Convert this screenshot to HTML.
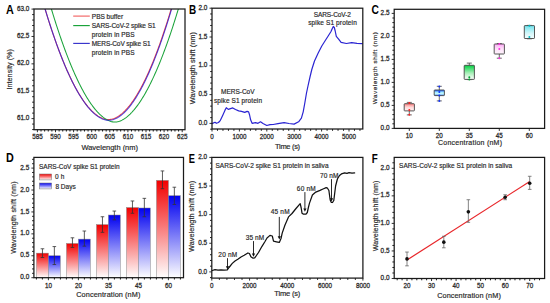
<!DOCTYPE html><html><head><meta charset="utf-8"><style>html,body{margin:0;padding:0;background:#fff;}svg{display:block;}</style></head><body>
<svg width="550" height="303" viewBox="0 0 550 303" font-family='"Liberation Sans", sans-serif'>
<rect width="550" height="303" fill="#fff"/>
<defs>
<linearGradient id="gR" x1="0" y1="0" x2="0" y2="1"><stop offset="0" stop-color="#f20000"/><stop offset="1" stop-color="#ffffff"/></linearGradient>
<linearGradient id="gB" x1="0" y1="0" x2="0" y2="1"><stop offset="0" stop-color="#0000f0"/><stop offset="1" stop-color="#ffffff"/></linearGradient>
<linearGradient id="cR" x1="0" y1="0" x2="0" y2="1"><stop offset="0" stop-color="#ff8080"/><stop offset="0.5" stop-color="#ffdada"/><stop offset="1" stop-color="#fff4f4"/></linearGradient>
<linearGradient id="cB" x1="0" y1="0" x2="0" y2="1"><stop offset="0" stop-color="#1a50f0"/><stop offset="0.45" stop-color="#a8f0ff"/><stop offset="0.7" stop-color="#c8f8ff"/><stop offset="1" stop-color="#2a70f0"/></linearGradient>
<linearGradient id="cG" x1="0" y1="0" x2="0" y2="1"><stop offset="0" stop-color="#00d040"/><stop offset="0.55" stop-color="#a8f0b8"/><stop offset="1" stop-color="#ffffff"/></linearGradient>
<linearGradient id="cM" x1="0" y1="0" x2="0" y2="1"><stop offset="0" stop-color="#ffa8f6"/><stop offset="0.5" stop-color="#fde2f9"/><stop offset="1" stop-color="#fff4fd"/></linearGradient>
<linearGradient id="cC" x1="0" y1="0" x2="0" y2="1"><stop offset="0" stop-color="#70e4ee"/><stop offset="0.6" stop-color="#d4f6f9"/><stop offset="1" stop-color="#f4feff"/></linearGradient>
</defs>
<clipPath id="clipA"><rect x="34" y="9" width="151" height="120.4"/></clipPath>
<g clip-path="url(#clipA)">
<polyline points="40.00,-8.42 40.58,-6.35 41.17,-4.30 41.75,-2.26 42.33,-0.25 42.92,1.76 43.50,3.74 44.08,5.71 44.67,7.67 45.25,9.61 45.83,11.53 46.42,13.44 47.00,15.33 47.58,17.20 48.17,19.06 48.75,20.90 49.33,22.73 49.92,24.54 50.50,26.33 51.08,28.11 51.67,29.87 52.25,31.61 52.83,33.34 53.42,35.05 54.00,36.75 54.58,38.43 55.17,40.09 55.75,41.74 56.33,43.37 56.92,44.99 57.50,46.58 58.08,48.17 58.67,49.73 59.25,51.28 59.83,52.81 60.42,54.33 61.00,55.83 61.58,57.31 62.17,58.78 62.75,60.23 63.33,61.66 63.92,63.08 64.50,64.48 65.08,65.86 65.67,67.23 66.25,68.58 66.83,69.91 67.42,71.23 68.00,72.53 68.58,73.81 69.17,75.08 69.75,76.32 70.33,77.56 70.92,78.77 71.50,79.97 72.08,81.15 72.67,82.32 73.25,83.47 73.83,84.60 74.42,85.71 75.00,86.81 75.58,87.89 76.17,88.95 76.75,89.99 77.33,91.02 77.92,92.03 78.50,93.03 79.08,94.00 79.67,94.96 80.25,95.90 80.83,96.83 81.42,97.74 82.00,98.62 82.58,99.50 83.17,100.35 83.75,101.19 84.33,102.01 84.92,102.81 85.50,103.59 86.08,104.36 86.67,105.11 87.25,105.84 87.83,106.55 88.42,107.24 89.00,107.92 89.58,108.58 90.17,109.22 90.75,109.84 91.33,110.44 91.92,111.03 92.50,111.60 93.08,112.14 93.67,112.67 94.25,113.19 94.83,113.68 95.42,114.15 96.00,114.61 96.58,115.05 97.17,115.46 97.75,115.86 98.33,116.24 98.92,116.60 99.50,116.94 100.08,117.26 100.67,117.57 101.25,117.85 101.83,118.11 102.42,118.35 103.00,118.57 103.58,118.77 104.17,118.95 104.75,119.11 105.33,119.25 105.92,119.36 106.50,119.46 107.08,119.53 107.67,119.58 108.25,119.60 108.83,119.59 109.42,119.56 110.00,119.50 110.58,119.41 111.17,119.31 111.75,119.18 112.33,119.03 112.92,118.86 113.50,118.66 114.08,118.45 114.67,118.21 115.25,117.96 115.83,117.68 116.42,117.38 117.00,117.07 117.58,116.73 118.17,116.38 118.75,116.00 119.33,115.61 119.92,115.19 120.50,114.76 121.08,114.30 121.67,113.83 122.25,113.34 122.83,112.83 123.42,112.30 124.00,111.75 124.58,111.18 125.17,110.60 125.75,109.99 126.33,109.37 126.92,108.73 127.50,108.07 128.08,107.39 128.67,106.69 129.25,105.98 129.83,105.25 130.42,104.50 131.00,103.73 131.58,102.94 132.17,102.13 132.75,101.31 133.33,100.47 133.92,99.61 134.50,98.73 135.08,97.84 135.67,96.92 136.25,95.99 136.83,95.04 137.42,94.08 138.00,93.09 138.58,92.09 139.17,91.07 139.75,90.04 140.33,88.98 140.92,87.91 141.50,86.82 142.08,85.72 142.67,84.59 143.25,83.45 143.83,82.30 144.42,81.12 145.00,79.93 145.58,78.72 146.17,77.49 146.75,76.25 147.33,74.98 147.92,73.71 148.50,72.41 149.08,71.10 149.67,69.77 150.25,68.42 150.83,67.06 151.42,65.68 152.00,64.28 152.58,62.86 153.17,61.43 153.75,59.98 154.33,58.52 154.92,57.03 155.50,55.54 156.08,54.02 156.67,52.49 157.25,50.94 157.83,49.37 158.42,47.79 159.00,46.19 159.58,44.57 160.17,42.94 160.75,41.29 161.33,39.62 161.92,37.94 162.50,36.24 163.08,34.52 163.67,32.79 164.25,31.04 164.83,29.28 165.42,27.50 166.00,25.70 166.58,23.88 167.17,22.05 167.75,20.20 168.33,18.34 168.92,16.46 169.50,14.56 170.08,12.65 170.67,10.72 171.25,8.77 171.83,6.81 172.42,4.83 173.00,2.83 173.58,0.82 174.17,-1.21 174.75,-3.25 175.33,-5.31 175.92,-7.39 176.50,-9.48 177.08,-11.59 177.67,-13.71 178.25,-15.85 178.83,-18.01 179.42,-20.19 180.00,-22.38" fill="none" stroke="#f04848" stroke-width="1.1" stroke-linejoin="round" stroke-linecap="round"/>
<polyline points="45.00,-13.15 45.58,-11.06 46.17,-8.98 46.75,-6.91 47.33,-4.86 47.92,-2.83 48.50,-0.81 49.08,1.19 49.67,3.18 50.25,5.16 50.83,7.11 51.42,9.06 52.00,10.98 52.58,12.90 53.17,14.79 53.75,16.68 54.33,18.54 54.92,20.39 55.50,22.23 56.08,24.05 56.67,25.85 57.25,27.64 57.83,29.41 58.42,31.17 59.00,32.91 59.58,34.64 60.17,36.35 60.75,38.04 61.33,39.72 61.92,41.39 62.50,43.04 63.08,44.67 63.67,46.28 64.25,47.89 64.83,49.47 65.42,51.04 66.00,52.59 66.58,54.13 67.17,55.65 67.75,57.16 68.33,58.65 68.92,60.12 69.50,61.58 70.08,63.02 70.67,64.45 71.25,65.85 71.83,67.25 72.42,68.62 73.00,69.99 73.58,71.33 74.17,72.66 74.75,73.97 75.33,75.27 75.92,76.55 76.50,77.81 77.08,79.06 77.67,80.29 78.25,81.50 78.83,82.70 79.42,83.88 80.00,85.04 80.58,86.19 81.17,87.32 81.75,88.43 82.33,89.53 82.92,90.61 83.50,91.67 84.08,92.72 84.67,93.75 85.25,94.76 85.83,95.75 86.42,96.73 87.00,97.69 87.58,98.64 88.17,99.56 88.75,100.47 89.33,101.37 89.92,102.24 90.50,103.10 91.08,103.94 91.67,104.76 92.25,105.56 92.83,106.35 93.42,107.12 94.00,107.87 94.58,108.60 95.17,109.32 95.75,110.02 96.33,110.70 96.92,111.36 97.50,112.00 98.08,112.62 98.67,113.23 99.25,113.82 99.83,114.39 100.42,114.94 101.00,115.47 101.58,115.98 102.17,116.47 102.75,116.95 103.33,117.40 103.92,117.83 104.50,118.25 105.08,118.65 105.67,119.02 106.25,119.38 106.83,119.71 107.42,120.03 108.00,120.32 108.58,120.59 109.17,120.85 109.75,121.08 110.33,121.29 110.92,121.47 111.50,121.64 112.08,121.78 112.67,121.89 113.25,121.99 113.83,122.05 114.42,122.09 115.00,122.10 115.58,122.07 116.17,122.01 116.75,121.93 117.33,121.82 117.92,121.68 118.50,121.53 119.08,121.35 119.67,121.15 120.25,120.93 120.83,120.68 121.42,120.42 122.00,120.13 122.58,119.82 123.17,119.50 123.75,119.15 124.33,118.78 124.92,118.39 125.50,117.98 126.08,117.56 126.67,117.11 127.25,116.64 127.83,116.16 128.42,115.66 129.00,115.13 129.58,114.59 130.17,114.03 130.75,113.45 131.33,112.85 131.92,112.24 132.50,111.60 133.08,110.95 133.67,110.28 134.25,109.59 134.83,108.88 135.42,108.16 136.00,107.42 136.58,106.66 137.17,105.88 137.75,105.08 138.33,104.27 138.92,103.44 139.50,102.59 140.08,101.72 140.67,100.84 141.25,99.94 141.83,99.02 142.42,98.09 143.00,97.14 143.58,96.17 144.17,95.18 144.75,94.18 145.33,93.16 145.92,92.12 146.50,91.07 147.08,90.00 147.67,88.91 148.25,87.81 148.83,86.69 149.42,85.55 150.00,84.39 150.58,83.22 151.17,82.04 151.75,80.83 152.33,79.61 152.92,78.38 153.50,77.12 154.08,75.85 154.67,74.57 155.25,73.27 155.83,71.95 156.42,70.62 157.00,69.27 157.58,67.90 158.17,66.52 158.75,65.12 159.33,63.70 159.92,62.27 160.50,60.83 161.08,59.36 161.67,57.88 162.25,56.39 162.83,54.88 163.42,53.35 164.00,51.81 164.58,50.25 165.17,48.68 165.75,47.09 166.33,45.48 166.92,43.86 167.50,42.23 168.08,40.57 168.67,38.91 169.25,37.22 169.83,35.52 170.42,33.81 171.00,32.08 171.58,30.33 172.17,28.57 172.75,26.79 173.33,25.00 173.92,23.20 174.50,21.37 175.08,19.53 175.67,17.68 176.25,15.81 176.83,13.93 177.42,12.03 178.00,10.11 178.58,8.18 179.17,6.24 179.75,4.28 180.33,2.30 180.92,0.31 181.50,-1.70 182.08,-3.72 182.67,-5.76 183.25,-7.81 183.83,-9.87 184.42,-11.96 185.00,-14.05" fill="none" stroke="#1aa33a" stroke-width="1.05" stroke-linejoin="round" stroke-linecap="round"/>
<polyline points="40.00,-8.52 40.58,-6.45 41.17,-4.40 41.75,-2.37 42.33,-0.35 42.92,1.66 43.50,3.64 44.08,5.62 44.67,7.57 45.25,9.51 45.83,11.44 46.42,13.34 47.00,15.24 47.58,17.11 48.17,18.97 48.75,20.82 49.33,22.65 49.92,24.46 50.50,26.25 51.08,28.03 51.67,29.80 52.25,31.54 52.83,33.28 53.42,34.99 54.00,36.69 54.58,38.37 55.17,40.04 55.75,41.69 56.33,43.33 56.92,44.94 57.50,46.54 58.08,48.13 58.67,49.70 59.25,51.25 59.83,52.79 60.42,54.31 61.00,55.81 61.58,57.30 62.17,58.77 62.75,60.22 63.33,61.66 63.92,63.08 64.50,64.49 65.08,65.87 65.67,67.25 66.25,68.60 66.83,69.94 67.42,71.26 68.00,72.57 68.58,73.85 69.17,75.13 69.75,76.38 70.33,77.62 70.92,78.84 71.50,80.05 72.08,81.23 72.67,82.40 73.25,83.56 73.83,84.69 74.42,85.81 75.00,86.92 75.58,88.00 76.17,89.07 76.75,90.13 77.33,91.16 77.92,92.18 78.50,93.18 79.08,94.16 79.67,95.13 80.25,96.08 80.83,97.01 81.42,97.92 82.00,98.82 82.58,99.70 83.17,100.56 83.75,101.41 84.33,102.23 84.92,103.04 85.50,103.84 86.08,104.61 86.67,105.37 87.25,106.11 87.83,106.83 88.42,107.53 89.00,108.22 89.58,108.88 90.17,109.53 90.75,110.16 91.33,110.78 91.92,111.37 92.50,111.95 93.08,112.51 93.67,113.05 94.25,113.57 94.83,114.07 95.42,114.56 96.00,115.02 96.58,115.47 97.17,115.90 97.75,116.31 98.33,116.70 98.92,117.07 99.50,117.42 100.08,117.76 100.67,118.07 101.25,118.37 101.83,118.64 102.42,118.89 103.00,119.13 103.58,119.34 104.17,119.53 104.75,119.71 105.33,119.86 105.92,119.99 106.50,120.10 107.08,120.18 107.67,120.25 108.25,120.29 108.83,120.30 109.42,120.28 110.00,120.24 110.58,120.17 111.17,120.08 111.75,119.97 112.33,119.83 112.92,119.67 113.50,119.49 114.08,119.29 114.67,119.07 115.25,118.83 115.83,118.56 116.42,118.28 117.00,117.97 117.58,117.65 118.17,117.30 118.75,116.94 119.33,116.56 119.92,116.15 120.50,115.73 121.08,115.29 121.67,114.82 122.25,114.34 122.83,113.84 123.42,113.32 124.00,112.78 124.58,112.23 125.17,111.65 125.75,111.06 126.33,110.44 126.92,109.81 127.50,109.16 128.08,108.49 128.67,107.80 129.25,107.09 129.83,106.37 130.42,105.63 131.00,104.87 131.58,104.09 132.17,103.29 132.75,102.47 133.33,101.64 133.92,100.79 134.50,99.92 135.08,99.03 135.67,98.12 136.25,97.20 136.83,96.26 137.42,95.30 138.00,94.32 138.58,93.32 139.17,92.31 139.75,91.28 140.33,90.23 140.92,89.17 141.50,88.08 142.08,86.98 142.67,85.87 143.25,84.73 143.83,83.58 144.42,82.41 145.00,81.22 145.58,80.01 146.17,78.79 146.75,77.55 147.33,76.29 147.92,75.02 148.50,73.73 149.08,72.42 149.67,71.09 150.25,69.75 150.83,68.39 151.42,67.01 152.00,65.62 152.58,64.21 153.17,62.78 153.75,61.33 154.33,59.87 154.92,58.39 155.50,56.89 156.08,55.38 156.67,53.85 157.25,52.30 157.83,50.74 158.42,49.16 159.00,47.56 159.58,45.95 160.17,44.32 160.75,42.67 161.33,41.00 161.92,39.32 162.50,37.62 163.08,35.91 163.67,34.18 164.25,32.43 164.83,30.67 165.42,28.88 166.00,27.09 166.58,25.27 167.17,23.44 167.75,21.59 168.33,19.73 168.92,17.85 169.50,15.95 170.08,14.04 170.67,12.11 171.25,10.16 171.83,8.20 172.42,6.22 173.00,4.22 173.58,2.21 174.17,0.18 174.75,-1.86 175.33,-3.92 175.92,-6.00 176.50,-8.09 177.08,-10.20 177.67,-12.33 178.25,-14.47 178.83,-16.63 179.42,-18.81 180.00,-21.00" fill="none" stroke="#2a20d8" stroke-width="1.1" stroke-linejoin="round" stroke-linecap="round" stroke-opacity="0.8"/>
</g>
<rect x="34.00" y="9.00" width="151.00" height="120.70" fill="none" stroke="#1a1a1a" stroke-width="1.25"/>
<line x1="32.50" y1="3458.35" x2="34.00" y2="3458.35" stroke="#1a1a1a" stroke-width="0.8"/>
<line x1="31.50" y1="118.60" x2="34.00" y2="118.60" stroke="#1a1a1a" stroke-width="0.9"/>
<text x="29.30" y="120.20" font-size="6.9" text-anchor="end" textLength="12.40" lengthAdjust="spacingAndGlyphs" fill="#2a2a2a" stroke="#2a2a2a" stroke-width="0.28">61.0</text>
<line x1="31.50" y1="91.22" x2="34.00" y2="91.22" stroke="#1a1a1a" stroke-width="0.9"/>
<text x="29.30" y="92.82" font-size="6.9" text-anchor="end" textLength="12.40" lengthAdjust="spacingAndGlyphs" fill="#2a2a2a" stroke="#2a2a2a" stroke-width="0.28">61.5</text>
<line x1="31.50" y1="63.85" x2="34.00" y2="63.85" stroke="#1a1a1a" stroke-width="0.9"/>
<text x="29.30" y="65.45" font-size="6.9" text-anchor="end" textLength="12.40" lengthAdjust="spacingAndGlyphs" fill="#2a2a2a" stroke="#2a2a2a" stroke-width="0.28">62.0</text>
<line x1="31.50" y1="36.47" x2="34.00" y2="36.47" stroke="#1a1a1a" stroke-width="0.9"/>
<text x="29.30" y="38.07" font-size="6.9" text-anchor="end" textLength="12.40" lengthAdjust="spacingAndGlyphs" fill="#2a2a2a" stroke="#2a2a2a" stroke-width="0.28">62.5</text>
<line x1="31.50" y1="9.10" x2="34.00" y2="9.10" stroke="#1a1a1a" stroke-width="0.9"/>
<text x="29.30" y="10.70" font-size="6.9" text-anchor="end" textLength="12.40" lengthAdjust="spacingAndGlyphs" fill="#2a2a2a" stroke="#2a2a2a" stroke-width="0.28">63.0</text>
<line x1="32.20" y1="129.55" x2="34.00" y2="129.55" stroke="#1a1a1a" stroke-width="1.0"/>
<line x1="32.20" y1="124.08" x2="34.00" y2="124.08" stroke="#1a1a1a" stroke-width="1.0"/>
<line x1="32.20" y1="113.12" x2="34.00" y2="113.12" stroke="#1a1a1a" stroke-width="1.0"/>
<line x1="32.20" y1="107.65" x2="34.00" y2="107.65" stroke="#1a1a1a" stroke-width="1.0"/>
<line x1="32.20" y1="102.18" x2="34.00" y2="102.18" stroke="#1a1a1a" stroke-width="1.0"/>
<line x1="32.20" y1="96.70" x2="34.00" y2="96.70" stroke="#1a1a1a" stroke-width="1.0"/>
<line x1="32.20" y1="85.75" x2="34.00" y2="85.75" stroke="#1a1a1a" stroke-width="1.0"/>
<line x1="32.20" y1="80.27" x2="34.00" y2="80.27" stroke="#1a1a1a" stroke-width="1.0"/>
<line x1="32.20" y1="74.80" x2="34.00" y2="74.80" stroke="#1a1a1a" stroke-width="1.0"/>
<line x1="32.20" y1="69.33" x2="34.00" y2="69.33" stroke="#1a1a1a" stroke-width="1.0"/>
<line x1="32.20" y1="58.37" x2="34.00" y2="58.37" stroke="#1a1a1a" stroke-width="1.0"/>
<line x1="32.20" y1="52.90" x2="34.00" y2="52.90" stroke="#1a1a1a" stroke-width="1.0"/>
<line x1="32.20" y1="47.43" x2="34.00" y2="47.43" stroke="#1a1a1a" stroke-width="1.0"/>
<line x1="32.20" y1="41.95" x2="34.00" y2="41.95" stroke="#1a1a1a" stroke-width="1.0"/>
<line x1="32.20" y1="31.00" x2="34.00" y2="31.00" stroke="#1a1a1a" stroke-width="1.0"/>
<line x1="32.20" y1="25.52" x2="34.00" y2="25.52" stroke="#1a1a1a" stroke-width="1.0"/>
<line x1="32.20" y1="20.05" x2="34.00" y2="20.05" stroke="#1a1a1a" stroke-width="1.0"/>
<line x1="32.20" y1="14.58" x2="34.00" y2="14.58" stroke="#1a1a1a" stroke-width="1.0"/>
<line x1="37.40" y1="129.70" x2="37.40" y2="132.20" stroke="#1a1a1a" stroke-width="0.9"/>
<text x="37.40" y="139.30" font-size="7.7" text-anchor="middle" textLength="10.50" lengthAdjust="spacingAndGlyphs" fill="#2a2a2a" stroke="#2a2a2a" stroke-width="0.28">585</text>
<line x1="55.50" y1="129.70" x2="55.50" y2="132.20" stroke="#1a1a1a" stroke-width="0.9"/>
<text x="55.50" y="139.30" font-size="7.7" text-anchor="middle" textLength="10.50" lengthAdjust="spacingAndGlyphs" fill="#2a2a2a" stroke="#2a2a2a" stroke-width="0.28">590</text>
<line x1="73.60" y1="129.70" x2="73.60" y2="132.20" stroke="#1a1a1a" stroke-width="0.9"/>
<text x="73.60" y="139.30" font-size="7.7" text-anchor="middle" textLength="10.50" lengthAdjust="spacingAndGlyphs" fill="#2a2a2a" stroke="#2a2a2a" stroke-width="0.28">595</text>
<line x1="91.70" y1="129.70" x2="91.70" y2="132.20" stroke="#1a1a1a" stroke-width="0.9"/>
<text x="91.70" y="139.30" font-size="7.7" text-anchor="middle" textLength="10.50" lengthAdjust="spacingAndGlyphs" fill="#2a2a2a" stroke="#2a2a2a" stroke-width="0.28">600</text>
<line x1="109.80" y1="129.70" x2="109.80" y2="132.20" stroke="#1a1a1a" stroke-width="0.9"/>
<text x="109.80" y="139.30" font-size="7.7" text-anchor="middle" textLength="10.50" lengthAdjust="spacingAndGlyphs" fill="#2a2a2a" stroke="#2a2a2a" stroke-width="0.28">605</text>
<line x1="127.90" y1="129.70" x2="127.90" y2="132.20" stroke="#1a1a1a" stroke-width="0.9"/>
<text x="127.90" y="139.30" font-size="7.7" text-anchor="middle" textLength="10.50" lengthAdjust="spacingAndGlyphs" fill="#2a2a2a" stroke="#2a2a2a" stroke-width="0.28">610</text>
<line x1="146.00" y1="129.70" x2="146.00" y2="132.20" stroke="#1a1a1a" stroke-width="0.9"/>
<text x="146.00" y="139.30" font-size="7.7" text-anchor="middle" textLength="10.50" lengthAdjust="spacingAndGlyphs" fill="#2a2a2a" stroke="#2a2a2a" stroke-width="0.28">615</text>
<line x1="164.10" y1="129.70" x2="164.10" y2="132.20" stroke="#1a1a1a" stroke-width="0.9"/>
<text x="164.10" y="139.30" font-size="7.7" text-anchor="middle" textLength="10.50" lengthAdjust="spacingAndGlyphs" fill="#2a2a2a" stroke="#2a2a2a" stroke-width="0.28">620</text>
<line x1="182.20" y1="129.70" x2="182.20" y2="132.20" stroke="#1a1a1a" stroke-width="0.9"/>
<text x="182.20" y="139.30" font-size="7.7" text-anchor="middle" textLength="10.50" lengthAdjust="spacingAndGlyphs" fill="#2a2a2a" stroke="#2a2a2a" stroke-width="0.28">625</text>
<line x1="41.02" y1="129.70" x2="41.02" y2="131.50" stroke="#1a1a1a" stroke-width="1.0"/>
<line x1="44.64" y1="129.70" x2="44.64" y2="131.50" stroke="#1a1a1a" stroke-width="1.0"/>
<line x1="48.26" y1="129.70" x2="48.26" y2="131.50" stroke="#1a1a1a" stroke-width="1.0"/>
<line x1="51.88" y1="129.70" x2="51.88" y2="131.50" stroke="#1a1a1a" stroke-width="1.0"/>
<line x1="59.12" y1="129.70" x2="59.12" y2="131.50" stroke="#1a1a1a" stroke-width="1.0"/>
<line x1="62.74" y1="129.70" x2="62.74" y2="131.50" stroke="#1a1a1a" stroke-width="1.0"/>
<line x1="66.36" y1="129.70" x2="66.36" y2="131.50" stroke="#1a1a1a" stroke-width="1.0"/>
<line x1="69.98" y1="129.70" x2="69.98" y2="131.50" stroke="#1a1a1a" stroke-width="1.0"/>
<line x1="77.22" y1="129.70" x2="77.22" y2="131.50" stroke="#1a1a1a" stroke-width="1.0"/>
<line x1="80.84" y1="129.70" x2="80.84" y2="131.50" stroke="#1a1a1a" stroke-width="1.0"/>
<line x1="84.46" y1="129.70" x2="84.46" y2="131.50" stroke="#1a1a1a" stroke-width="1.0"/>
<line x1="88.08" y1="129.70" x2="88.08" y2="131.50" stroke="#1a1a1a" stroke-width="1.0"/>
<line x1="95.32" y1="129.70" x2="95.32" y2="131.50" stroke="#1a1a1a" stroke-width="1.0"/>
<line x1="98.94" y1="129.70" x2="98.94" y2="131.50" stroke="#1a1a1a" stroke-width="1.0"/>
<line x1="102.56" y1="129.70" x2="102.56" y2="131.50" stroke="#1a1a1a" stroke-width="1.0"/>
<line x1="106.18" y1="129.70" x2="106.18" y2="131.50" stroke="#1a1a1a" stroke-width="1.0"/>
<line x1="113.42" y1="129.70" x2="113.42" y2="131.50" stroke="#1a1a1a" stroke-width="1.0"/>
<line x1="117.04" y1="129.70" x2="117.04" y2="131.50" stroke="#1a1a1a" stroke-width="1.0"/>
<line x1="120.66" y1="129.70" x2="120.66" y2="131.50" stroke="#1a1a1a" stroke-width="1.0"/>
<line x1="124.28" y1="129.70" x2="124.28" y2="131.50" stroke="#1a1a1a" stroke-width="1.0"/>
<line x1="131.52" y1="129.70" x2="131.52" y2="131.50" stroke="#1a1a1a" stroke-width="1.0"/>
<line x1="135.14" y1="129.70" x2="135.14" y2="131.50" stroke="#1a1a1a" stroke-width="1.0"/>
<line x1="138.76" y1="129.70" x2="138.76" y2="131.50" stroke="#1a1a1a" stroke-width="1.0"/>
<line x1="142.38" y1="129.70" x2="142.38" y2="131.50" stroke="#1a1a1a" stroke-width="1.0"/>
<line x1="149.62" y1="129.70" x2="149.62" y2="131.50" stroke="#1a1a1a" stroke-width="1.0"/>
<line x1="153.24" y1="129.70" x2="153.24" y2="131.50" stroke="#1a1a1a" stroke-width="1.0"/>
<line x1="156.86" y1="129.70" x2="156.86" y2="131.50" stroke="#1a1a1a" stroke-width="1.0"/>
<line x1="160.48" y1="129.70" x2="160.48" y2="131.50" stroke="#1a1a1a" stroke-width="1.0"/>
<line x1="167.72" y1="129.70" x2="167.72" y2="131.50" stroke="#1a1a1a" stroke-width="1.0"/>
<line x1="171.34" y1="129.70" x2="171.34" y2="131.50" stroke="#1a1a1a" stroke-width="1.0"/>
<line x1="174.96" y1="129.70" x2="174.96" y2="131.50" stroke="#1a1a1a" stroke-width="1.0"/>
<line x1="178.58" y1="129.70" x2="178.58" y2="131.50" stroke="#1a1a1a" stroke-width="1.0"/>
<text x="109.70" y="150.00" font-size="7.5" text-anchor="middle" textLength="56.60" lengthAdjust="spacing" fill="#2a2a2a" stroke="#2a2a2a" stroke-width="0.18">Wavelength (nm)</text>
<text x="12.40" y="69.30" font-size="7.2" text-anchor="middle" textLength="40.50" lengthAdjust="spacing" transform="rotate(-90 12.40 69.30)" fill="#2a2a2a" stroke="#2a2a2a" stroke-width="0.18">Intensity (%)</text>
<text x="6.00" y="14.00" font-size="12.5" text-anchor="start" textLength="7.80" lengthAdjust="spacingAndGlyphs" font-weight="bold" fill="#000">A</text>
<line x1="73.20" y1="16.10" x2="89.80" y2="16.10" stroke="#f26464" stroke-width="1.15"/>
<line x1="73.20" y1="25.60" x2="89.80" y2="25.60" stroke="#1aa33a" stroke-width="1.15"/>
<line x1="73.20" y1="43.40" x2="89.80" y2="43.40" stroke="#3a36cc" stroke-width="1.15"/>
<text x="91.80" y="19.00" font-size="6.5" text-anchor="start" textLength="31.30" lengthAdjust="spacing" fill="#2a2a2a" stroke="#2a2a2a" stroke-width="0.18">PBS buffer</text>
<text x="91.80" y="28.10" font-size="6.5" text-anchor="start" textLength="63.80" lengthAdjust="spacing" fill="#2a2a2a" stroke="#2a2a2a" stroke-width="0.18">SARS-CoV-2 spike S1</text>
<text x="91.80" y="37.20" font-size="6.5" text-anchor="start" textLength="42.70" lengthAdjust="spacing" fill="#2a2a2a" stroke="#2a2a2a" stroke-width="0.18">protein in PBS</text>
<text x="91.80" y="46.30" font-size="6.5" text-anchor="start" textLength="58.80" lengthAdjust="spacing" fill="#2a2a2a" stroke="#2a2a2a" stroke-width="0.18">MERS-CoV spike S1</text>
<text x="91.80" y="55.30" font-size="6.5" text-anchor="start" textLength="42.70" lengthAdjust="spacing" fill="#2a2a2a" stroke="#2a2a2a" stroke-width="0.18">protein in PBS</text>
<polyline points="212.00,123.60 215.00,122.30 216.40,123.30 218.50,122.50 220.40,120.30 222.90,114.90 224.90,110.40 226.30,107.70 228.30,109.40 230.50,108.60 232.80,107.90 235.50,109.50 238.70,110.90 241.50,111.40 244.70,112.40 247.10,111.40 248.60,111.90 249.60,115.00 250.60,119.80 252.10,123.30 255.50,122.60 258.00,123.30 260.50,121.80 263.00,123.50 266.80,125.50 270.00,124.60 273.20,124.50 278.00,123.60 284.10,122.70 289.00,123.50 294.10,124.10 298.60,121.80 301.40,118.20 303.20,111.80 304.90,102.50 306.50,93.00 308.20,85.00 310.00,77.00 311.80,69.50 314.50,61.00 318.20,53.00 321.80,46.00 325.60,40.00 328.50,35.50 331.00,31.50 332.30,28.50 333.30,26.50 334.30,27.50 335.20,31.00 336.30,36.40 338.60,39.10 341.10,42.40 346.40,43.50 351.70,42.70 357.00,43.30 362.20,43.70" fill="none" stroke="#2a24d2" stroke-width="1.2" stroke-linejoin="round" stroke-linecap="round"/>
<rect x="212.00" y="8.20" width="150.80" height="120.80" fill="none" stroke="#1a1a1a" stroke-width="1.25"/>
<line x1="209.50" y1="123.40" x2="212.00" y2="123.40" stroke="#1a1a1a" stroke-width="0.9"/>
<text x="207.30" y="125.00" font-size="6.9" text-anchor="end" textLength="8.90" lengthAdjust="spacingAndGlyphs" fill="#2a2a2a" stroke="#2a2a2a" stroke-width="0.28">0.0</text>
<line x1="209.50" y1="94.60" x2="212.00" y2="94.60" stroke="#1a1a1a" stroke-width="0.9"/>
<text x="207.30" y="96.20" font-size="6.9" text-anchor="end" textLength="8.90" lengthAdjust="spacingAndGlyphs" fill="#2a2a2a" stroke="#2a2a2a" stroke-width="0.28">0.5</text>
<line x1="209.50" y1="65.80" x2="212.00" y2="65.80" stroke="#1a1a1a" stroke-width="0.9"/>
<text x="207.30" y="67.40" font-size="6.9" text-anchor="end" textLength="8.90" lengthAdjust="spacingAndGlyphs" fill="#2a2a2a" stroke="#2a2a2a" stroke-width="0.28">1.0</text>
<line x1="209.50" y1="37.00" x2="212.00" y2="37.00" stroke="#1a1a1a" stroke-width="0.9"/>
<text x="207.30" y="38.60" font-size="6.9" text-anchor="end" textLength="8.90" lengthAdjust="spacingAndGlyphs" fill="#2a2a2a" stroke="#2a2a2a" stroke-width="0.28">1.5</text>
<line x1="209.50" y1="8.20" x2="212.00" y2="8.20" stroke="#1a1a1a" stroke-width="0.9"/>
<text x="207.30" y="9.80" font-size="6.9" text-anchor="end" textLength="8.90" lengthAdjust="spacingAndGlyphs" fill="#2a2a2a" stroke="#2a2a2a" stroke-width="0.28">2.0</text>
<line x1="210.20" y1="129.16" x2="212.00" y2="129.16" stroke="#1a1a1a" stroke-width="1.0"/>
<line x1="210.20" y1="117.64" x2="212.00" y2="117.64" stroke="#1a1a1a" stroke-width="1.0"/>
<line x1="210.20" y1="111.88" x2="212.00" y2="111.88" stroke="#1a1a1a" stroke-width="1.0"/>
<line x1="210.20" y1="106.12" x2="212.00" y2="106.12" stroke="#1a1a1a" stroke-width="1.0"/>
<line x1="210.20" y1="100.36" x2="212.00" y2="100.36" stroke="#1a1a1a" stroke-width="1.0"/>
<line x1="210.20" y1="88.84" x2="212.00" y2="88.84" stroke="#1a1a1a" stroke-width="1.0"/>
<line x1="210.20" y1="83.08" x2="212.00" y2="83.08" stroke="#1a1a1a" stroke-width="1.0"/>
<line x1="210.20" y1="77.32" x2="212.00" y2="77.32" stroke="#1a1a1a" stroke-width="1.0"/>
<line x1="210.20" y1="71.56" x2="212.00" y2="71.56" stroke="#1a1a1a" stroke-width="1.0"/>
<line x1="210.20" y1="60.04" x2="212.00" y2="60.04" stroke="#1a1a1a" stroke-width="1.0"/>
<line x1="210.20" y1="54.28" x2="212.00" y2="54.28" stroke="#1a1a1a" stroke-width="1.0"/>
<line x1="210.20" y1="48.52" x2="212.00" y2="48.52" stroke="#1a1a1a" stroke-width="1.0"/>
<line x1="210.20" y1="42.76" x2="212.00" y2="42.76" stroke="#1a1a1a" stroke-width="1.0"/>
<line x1="210.20" y1="31.24" x2="212.00" y2="31.24" stroke="#1a1a1a" stroke-width="1.0"/>
<line x1="210.20" y1="25.48" x2="212.00" y2="25.48" stroke="#1a1a1a" stroke-width="1.0"/>
<line x1="210.20" y1="19.72" x2="212.00" y2="19.72" stroke="#1a1a1a" stroke-width="1.0"/>
<line x1="210.20" y1="13.96" x2="212.00" y2="13.96" stroke="#1a1a1a" stroke-width="1.0"/>
<line x1="212.00" y1="129.00" x2="212.00" y2="131.50" stroke="#1a1a1a" stroke-width="0.9"/>
<text x="212.00" y="138.90" font-size="7.4" text-anchor="middle" textLength="3.50" lengthAdjust="spacingAndGlyphs" fill="#2a2a2a" stroke="#2a2a2a" stroke-width="0.28">0</text>
<line x1="239.40" y1="129.00" x2="239.40" y2="131.50" stroke="#1a1a1a" stroke-width="0.9"/>
<text x="239.40" y="138.90" font-size="7.4" text-anchor="middle" textLength="14.00" lengthAdjust="spacingAndGlyphs" fill="#2a2a2a" stroke="#2a2a2a" stroke-width="0.28">1000</text>
<line x1="266.80" y1="129.00" x2="266.80" y2="131.50" stroke="#1a1a1a" stroke-width="0.9"/>
<text x="266.80" y="138.90" font-size="7.4" text-anchor="middle" textLength="14.00" lengthAdjust="spacingAndGlyphs" fill="#2a2a2a" stroke="#2a2a2a" stroke-width="0.28">2000</text>
<line x1="294.20" y1="129.00" x2="294.20" y2="131.50" stroke="#1a1a1a" stroke-width="0.9"/>
<text x="294.20" y="138.90" font-size="7.4" text-anchor="middle" textLength="14.00" lengthAdjust="spacingAndGlyphs" fill="#2a2a2a" stroke="#2a2a2a" stroke-width="0.28">3000</text>
<line x1="321.60" y1="129.00" x2="321.60" y2="131.50" stroke="#1a1a1a" stroke-width="0.9"/>
<text x="321.60" y="138.90" font-size="7.4" text-anchor="middle" textLength="14.00" lengthAdjust="spacingAndGlyphs" fill="#2a2a2a" stroke="#2a2a2a" stroke-width="0.28">4000</text>
<line x1="349.00" y1="129.00" x2="349.00" y2="131.50" stroke="#1a1a1a" stroke-width="0.9"/>
<text x="349.00" y="138.90" font-size="7.4" text-anchor="middle" textLength="14.00" lengthAdjust="spacingAndGlyphs" fill="#2a2a2a" stroke="#2a2a2a" stroke-width="0.28">5000</text>
<line x1="217.48" y1="129.00" x2="217.48" y2="130.80" stroke="#1a1a1a" stroke-width="1.0"/>
<line x1="222.96" y1="129.00" x2="222.96" y2="130.80" stroke="#1a1a1a" stroke-width="1.0"/>
<line x1="228.44" y1="129.00" x2="228.44" y2="130.80" stroke="#1a1a1a" stroke-width="1.0"/>
<line x1="233.92" y1="129.00" x2="233.92" y2="130.80" stroke="#1a1a1a" stroke-width="1.0"/>
<line x1="244.88" y1="129.00" x2="244.88" y2="130.80" stroke="#1a1a1a" stroke-width="1.0"/>
<line x1="250.36" y1="129.00" x2="250.36" y2="130.80" stroke="#1a1a1a" stroke-width="1.0"/>
<line x1="255.84" y1="129.00" x2="255.84" y2="130.80" stroke="#1a1a1a" stroke-width="1.0"/>
<line x1="261.32" y1="129.00" x2="261.32" y2="130.80" stroke="#1a1a1a" stroke-width="1.0"/>
<line x1="272.28" y1="129.00" x2="272.28" y2="130.80" stroke="#1a1a1a" stroke-width="1.0"/>
<line x1="277.76" y1="129.00" x2="277.76" y2="130.80" stroke="#1a1a1a" stroke-width="1.0"/>
<line x1="283.24" y1="129.00" x2="283.24" y2="130.80" stroke="#1a1a1a" stroke-width="1.0"/>
<line x1="288.72" y1="129.00" x2="288.72" y2="130.80" stroke="#1a1a1a" stroke-width="1.0"/>
<line x1="299.68" y1="129.00" x2="299.68" y2="130.80" stroke="#1a1a1a" stroke-width="1.0"/>
<line x1="305.16" y1="129.00" x2="305.16" y2="130.80" stroke="#1a1a1a" stroke-width="1.0"/>
<line x1="310.64" y1="129.00" x2="310.64" y2="130.80" stroke="#1a1a1a" stroke-width="1.0"/>
<line x1="316.12" y1="129.00" x2="316.12" y2="130.80" stroke="#1a1a1a" stroke-width="1.0"/>
<line x1="327.08" y1="129.00" x2="327.08" y2="130.80" stroke="#1a1a1a" stroke-width="1.0"/>
<line x1="332.56" y1="129.00" x2="332.56" y2="130.80" stroke="#1a1a1a" stroke-width="1.0"/>
<line x1="338.04" y1="129.00" x2="338.04" y2="130.80" stroke="#1a1a1a" stroke-width="1.0"/>
<line x1="343.52" y1="129.00" x2="343.52" y2="130.80" stroke="#1a1a1a" stroke-width="1.0"/>
<line x1="354.48" y1="129.00" x2="354.48" y2="130.80" stroke="#1a1a1a" stroke-width="1.0"/>
<line x1="359.96" y1="129.00" x2="359.96" y2="130.80" stroke="#1a1a1a" stroke-width="1.0"/>
<text x="287.60" y="149.10" font-size="7.5" text-anchor="middle" textLength="25.00" lengthAdjust="spacing" fill="#2a2a2a" stroke="#2a2a2a" stroke-width="0.18">Time (s)</text>
<text x="194.80" y="68.10" font-size="7.5" text-anchor="middle" textLength="72.40" lengthAdjust="spacing" transform="rotate(-90 194.80 68.10)" fill="#2a2a2a" stroke="#2a2a2a" stroke-width="0.18">Wavelength shift (nm)</text>
<text x="188.90" y="14.30" font-size="12.5" text-anchor="start" textLength="7.20" lengthAdjust="spacingAndGlyphs" font-weight="bold" fill="#000">B</text>
<text x="237.80" y="94.00" font-size="6.5" text-anchor="middle" textLength="33.50" lengthAdjust="spacing" fill="#2a2a2a" stroke="#2a2a2a" stroke-width="0.18">MERS-CoV</text>
<text x="238.00" y="103.00" font-size="6.5" text-anchor="middle" textLength="48.00" lengthAdjust="spacing" fill="#2a2a2a" stroke="#2a2a2a" stroke-width="0.18">spike S1 protein</text>
<text x="332.30" y="16.50" font-size="6.5" text-anchor="middle" textLength="37.10" lengthAdjust="spacing" fill="#2a2a2a" stroke="#2a2a2a" stroke-width="0.18">SARS-CoV-2</text>
<text x="332.50" y="25.20" font-size="6.5" text-anchor="middle" textLength="48.50" lengthAdjust="spacing" fill="#2a2a2a" stroke="#2a2a2a" stroke-width="0.18">spike S1 protein</text>
<rect x="394.20" y="9.30" width="150.40" height="119.10" fill="none" stroke="#1a1a1a" stroke-width="1.25"/>
<line x1="391.70" y1="128.40" x2="394.20" y2="128.40" stroke="#1a1a1a" stroke-width="0.9"/>
<text x="389.50" y="130.00" font-size="6.9" text-anchor="end" textLength="8.90" lengthAdjust="spacingAndGlyphs" fill="#2a2a2a" stroke="#2a2a2a" stroke-width="0.28">0.0</text>
<line x1="391.70" y1="105.40" x2="394.20" y2="105.40" stroke="#1a1a1a" stroke-width="0.9"/>
<text x="389.50" y="107.00" font-size="6.9" text-anchor="end" textLength="8.90" lengthAdjust="spacingAndGlyphs" fill="#2a2a2a" stroke="#2a2a2a" stroke-width="0.28">0.5</text>
<line x1="391.70" y1="82.40" x2="394.20" y2="82.40" stroke="#1a1a1a" stroke-width="0.9"/>
<text x="389.50" y="84.00" font-size="6.9" text-anchor="end" textLength="8.90" lengthAdjust="spacingAndGlyphs" fill="#2a2a2a" stroke="#2a2a2a" stroke-width="0.28">1.0</text>
<line x1="391.70" y1="59.40" x2="394.20" y2="59.40" stroke="#1a1a1a" stroke-width="0.9"/>
<text x="389.50" y="61.00" font-size="6.9" text-anchor="end" textLength="8.90" lengthAdjust="spacingAndGlyphs" fill="#2a2a2a" stroke="#2a2a2a" stroke-width="0.28">1.5</text>
<line x1="391.70" y1="36.40" x2="394.20" y2="36.40" stroke="#1a1a1a" stroke-width="0.9"/>
<text x="389.50" y="38.00" font-size="6.9" text-anchor="end" textLength="8.90" lengthAdjust="spacingAndGlyphs" fill="#2a2a2a" stroke="#2a2a2a" stroke-width="0.28">2.0</text>
<line x1="391.70" y1="13.40" x2="394.20" y2="13.40" stroke="#1a1a1a" stroke-width="0.9"/>
<text x="389.50" y="15.00" font-size="6.9" text-anchor="end" textLength="8.90" lengthAdjust="spacingAndGlyphs" fill="#2a2a2a" stroke="#2a2a2a" stroke-width="0.28">2.5</text>
<line x1="392.40" y1="123.80" x2="394.20" y2="123.80" stroke="#1a1a1a" stroke-width="1.0"/>
<line x1="392.40" y1="119.20" x2="394.20" y2="119.20" stroke="#1a1a1a" stroke-width="1.0"/>
<line x1="392.40" y1="114.60" x2="394.20" y2="114.60" stroke="#1a1a1a" stroke-width="1.0"/>
<line x1="392.40" y1="110.00" x2="394.20" y2="110.00" stroke="#1a1a1a" stroke-width="1.0"/>
<line x1="392.40" y1="100.80" x2="394.20" y2="100.80" stroke="#1a1a1a" stroke-width="1.0"/>
<line x1="392.40" y1="96.20" x2="394.20" y2="96.20" stroke="#1a1a1a" stroke-width="1.0"/>
<line x1="392.40" y1="91.60" x2="394.20" y2="91.60" stroke="#1a1a1a" stroke-width="1.0"/>
<line x1="392.40" y1="87.00" x2="394.20" y2="87.00" stroke="#1a1a1a" stroke-width="1.0"/>
<line x1="392.40" y1="77.80" x2="394.20" y2="77.80" stroke="#1a1a1a" stroke-width="1.0"/>
<line x1="392.40" y1="73.20" x2="394.20" y2="73.20" stroke="#1a1a1a" stroke-width="1.0"/>
<line x1="392.40" y1="68.60" x2="394.20" y2="68.60" stroke="#1a1a1a" stroke-width="1.0"/>
<line x1="392.40" y1="64.00" x2="394.20" y2="64.00" stroke="#1a1a1a" stroke-width="1.0"/>
<line x1="392.40" y1="54.80" x2="394.20" y2="54.80" stroke="#1a1a1a" stroke-width="1.0"/>
<line x1="392.40" y1="50.20" x2="394.20" y2="50.20" stroke="#1a1a1a" stroke-width="1.0"/>
<line x1="392.40" y1="45.60" x2="394.20" y2="45.60" stroke="#1a1a1a" stroke-width="1.0"/>
<line x1="392.40" y1="41.00" x2="394.20" y2="41.00" stroke="#1a1a1a" stroke-width="1.0"/>
<line x1="392.40" y1="31.80" x2="394.20" y2="31.80" stroke="#1a1a1a" stroke-width="1.0"/>
<line x1="392.40" y1="27.20" x2="394.20" y2="27.20" stroke="#1a1a1a" stroke-width="1.0"/>
<line x1="392.40" y1="22.60" x2="394.20" y2="22.60" stroke="#1a1a1a" stroke-width="1.0"/>
<line x1="392.40" y1="18.00" x2="394.20" y2="18.00" stroke="#1a1a1a" stroke-width="1.0"/>
<line x1="409.30" y1="128.40" x2="409.30" y2="130.90" stroke="#1a1a1a" stroke-width="0.9"/>
<text x="409.30" y="138.30" font-size="7.4" text-anchor="middle" textLength="7.00" lengthAdjust="spacingAndGlyphs" fill="#2a2a2a" stroke="#2a2a2a" stroke-width="0.28">10</text>
<line x1="439.30" y1="128.40" x2="439.30" y2="130.90" stroke="#1a1a1a" stroke-width="0.9"/>
<text x="439.30" y="138.30" font-size="7.4" text-anchor="middle" textLength="7.00" lengthAdjust="spacingAndGlyphs" fill="#2a2a2a" stroke="#2a2a2a" stroke-width="0.28">20</text>
<line x1="469.30" y1="128.40" x2="469.30" y2="130.90" stroke="#1a1a1a" stroke-width="0.9"/>
<text x="469.30" y="138.30" font-size="7.4" text-anchor="middle" textLength="7.00" lengthAdjust="spacingAndGlyphs" fill="#2a2a2a" stroke="#2a2a2a" stroke-width="0.28">35</text>
<line x1="499.30" y1="128.40" x2="499.30" y2="130.90" stroke="#1a1a1a" stroke-width="0.9"/>
<text x="499.30" y="138.30" font-size="7.4" text-anchor="middle" textLength="7.00" lengthAdjust="spacingAndGlyphs" fill="#2a2a2a" stroke="#2a2a2a" stroke-width="0.28">45</text>
<line x1="529.30" y1="128.40" x2="529.30" y2="130.90" stroke="#1a1a1a" stroke-width="0.9"/>
<text x="529.30" y="138.30" font-size="7.4" text-anchor="middle" textLength="7.00" lengthAdjust="spacingAndGlyphs" fill="#2a2a2a" stroke="#2a2a2a" stroke-width="0.28">60</text>
<text x="470.00" y="145.30" font-size="7" text-anchor="middle" textLength="64.00" lengthAdjust="spacing" fill="#2a2a2a" stroke="#2a2a2a" stroke-width="0.18">Concentration (nM)</text>
<text x="376.80" y="68.30" font-size="6.2" text-anchor="middle" textLength="72.00" lengthAdjust="spacing" transform="rotate(-90 376.80 68.30)" fill="#2a2a2a" stroke="#2a2a2a" stroke-width="0.18">Wavelength shift (nm)</text>
<text x="371.50" y="14.30" font-size="12.5" text-anchor="start" textLength="7.40" lengthAdjust="spacingAndGlyphs" font-weight="bold" fill="#000">C</text>
<line x1="409.30" y1="102.40" x2="409.30" y2="103.70" stroke="#444" stroke-width="0.8"/>
<line x1="409.30" y1="110.90" x2="409.30" y2="114.90" stroke="#444" stroke-width="0.8"/>
<line x1="406.80" y1="102.40" x2="411.80" y2="102.40" stroke="#444" stroke-width="0.8"/>
<line x1="406.80" y1="114.90" x2="411.80" y2="114.90" stroke="#444" stroke-width="0.8"/>
<rect x="404.20" y="103.70" width="10.2" height="7.20" rx="0.6" fill="url(#cR)" stroke="#444" stroke-width="0.9"/>
<circle cx="409.30" cy="102.90" r="1.0" fill="#ff2020"/>
<circle cx="409.30" cy="109.90" r="1.0" fill="#ff2020"/>
<circle cx="409.30" cy="114.80" r="1.0" fill="#ff2020"/>
<line x1="439.30" y1="86.30" x2="439.30" y2="90.00" stroke="#444" stroke-width="0.8"/>
<line x1="439.30" y1="95.60" x2="439.30" y2="100.90" stroke="#444" stroke-width="0.8"/>
<line x1="436.80" y1="86.30" x2="441.80" y2="86.30" stroke="#444" stroke-width="0.8"/>
<line x1="436.80" y1="100.90" x2="441.80" y2="100.90" stroke="#444" stroke-width="0.8"/>
<rect x="434.20" y="90.00" width="10.2" height="5.60" rx="0.6" fill="url(#cB)" stroke="#444" stroke-width="0.9"/>
<circle cx="439.30" cy="86.40" r="1.0" fill="#1030ff"/>
<circle cx="439.30" cy="92.00" r="1.0" fill="#1030ff"/>
<circle cx="439.30" cy="95.50" r="1.0" fill="#1030ff"/>
<circle cx="439.30" cy="100.90" r="1.0" fill="#1030ff"/>
<line x1="469.30" y1="63.10" x2="469.30" y2="65.30" stroke="#444" stroke-width="0.8"/>
<line x1="469.30" y1="79.40" x2="469.30" y2="79.60" stroke="#444" stroke-width="0.8"/>
<line x1="466.80" y1="63.10" x2="471.80" y2="63.10" stroke="#444" stroke-width="0.8"/>
<line x1="466.80" y1="79.60" x2="471.80" y2="79.60" stroke="#444" stroke-width="0.8"/>
<rect x="464.20" y="65.30" width="10.2" height="14.10" rx="0.6" fill="url(#cG)" stroke="#444" stroke-width="0.9"/>
<circle cx="469.30" cy="77.20" r="1.0" fill="#00a030"/>
<circle cx="469.30" cy="79.40" r="1.0" fill="#00a030"/>
<line x1="499.30" y1="43.50" x2="499.30" y2="44.00" stroke="#444" stroke-width="0.8"/>
<line x1="499.30" y1="54.00" x2="499.30" y2="58.20" stroke="#444" stroke-width="0.8"/>
<line x1="496.80" y1="43.50" x2="501.80" y2="43.50" stroke="#444" stroke-width="0.8"/>
<line x1="496.80" y1="58.20" x2="501.80" y2="58.20" stroke="#444" stroke-width="0.8"/>
<rect x="494.20" y="44.00" width="10.2" height="10.00" rx="0.6" fill="url(#cM)" stroke="#444" stroke-width="0.9"/>
<circle cx="499.30" cy="44.00" r="1.0" fill="#ff30e0"/>
<circle cx="499.30" cy="49.00" r="1.0" fill="#ff30e0"/>
<circle cx="499.30" cy="58.20" r="1.0" fill="#ff30e0"/>
<line x1="529.40" y1="25.40" x2="529.40" y2="25.60" stroke="#444" stroke-width="0.8"/>
<line x1="529.40" y1="38.50" x2="529.40" y2="38.80" stroke="#444" stroke-width="0.8"/>
<line x1="526.90" y1="25.40" x2="531.90" y2="25.40" stroke="#444" stroke-width="0.8"/>
<line x1="526.90" y1="38.80" x2="531.90" y2="38.80" stroke="#444" stroke-width="0.8"/>
<rect x="524.30" y="25.60" width="10.2" height="12.90" rx="0.6" fill="url(#cC)" stroke="#444" stroke-width="0.9"/>
<circle cx="529.40" cy="25.80" r="1.0" fill="#00b8c0"/>
<circle cx="529.40" cy="37.00" r="1.0" fill="#00b8c0"/>
<rect x="36.50" y="253.15" width="11.9" height="24.55" fill="url(#gR)" stroke="#888" stroke-width="0.5"/>
<rect x="48.40" y="255.78" width="11.9" height="21.92" fill="url(#gB)" stroke="#888" stroke-width="0.5"/>
<rect x="66.50" y="243.50" width="11.9" height="34.20" fill="url(#gR)" stroke="#888" stroke-width="0.5"/>
<rect x="78.40" y="239.12" width="11.9" height="38.58" fill="url(#gB)" stroke="#888" stroke-width="0.5"/>
<rect x="96.50" y="224.65" width="11.9" height="53.05" fill="url(#gR)" stroke="#888" stroke-width="0.5"/>
<rect x="108.40" y="215.01" width="11.9" height="62.69" fill="url(#gB)" stroke="#888" stroke-width="0.5"/>
<rect x="126.50" y="207.56" width="11.9" height="70.14" fill="url(#gR)" stroke="#888" stroke-width="0.5"/>
<rect x="138.40" y="207.99" width="11.9" height="69.71" fill="url(#gB)" stroke="#888" stroke-width="0.5"/>
<rect x="156.50" y="180.38" width="11.9" height="97.32" fill="url(#gR)" stroke="#888" stroke-width="0.5"/>
<rect x="168.40" y="195.72" width="11.9" height="81.98" fill="url(#gB)" stroke="#888" stroke-width="0.5"/>
<line x1="42.45" y1="248.77" x2="42.45" y2="257.53" stroke="#333" stroke-width="0.8"/>
<line x1="40.65" y1="248.77" x2="44.25" y2="248.77" stroke="#333" stroke-width="0.8"/>
<line x1="40.65" y1="257.53" x2="44.25" y2="257.53" stroke="#333" stroke-width="0.8"/>
<line x1="54.35" y1="246.57" x2="54.35" y2="264.55" stroke="#333" stroke-width="0.8"/>
<line x1="52.55" y1="246.57" x2="56.15" y2="246.57" stroke="#333" stroke-width="0.8"/>
<line x1="52.55" y1="264.55" x2="56.15" y2="264.55" stroke="#333" stroke-width="0.8"/>
<line x1="72.45" y1="237.81" x2="72.45" y2="247.45" stroke="#333" stroke-width="0.8"/>
<line x1="70.65" y1="237.81" x2="74.25" y2="237.81" stroke="#333" stroke-width="0.8"/>
<line x1="70.65" y1="247.45" x2="74.25" y2="247.45" stroke="#333" stroke-width="0.8"/>
<line x1="84.35" y1="231.01" x2="84.35" y2="246.14" stroke="#333" stroke-width="0.8"/>
<line x1="82.55" y1="231.01" x2="86.15" y2="231.01" stroke="#333" stroke-width="0.8"/>
<line x1="82.55" y1="246.14" x2="86.15" y2="246.14" stroke="#333" stroke-width="0.8"/>
<line x1="102.45" y1="216.76" x2="102.45" y2="232.33" stroke="#333" stroke-width="0.8"/>
<line x1="100.65" y1="216.76" x2="104.25" y2="216.76" stroke="#333" stroke-width="0.8"/>
<line x1="100.65" y1="232.33" x2="104.25" y2="232.33" stroke="#333" stroke-width="0.8"/>
<line x1="114.35" y1="211.06" x2="114.35" y2="219.83" stroke="#333" stroke-width="0.8"/>
<line x1="112.55" y1="211.06" x2="116.15" y2="211.06" stroke="#333" stroke-width="0.8"/>
<line x1="112.55" y1="219.83" x2="116.15" y2="219.83" stroke="#333" stroke-width="0.8"/>
<line x1="132.45" y1="200.98" x2="132.45" y2="213.26" stroke="#333" stroke-width="0.8"/>
<line x1="130.65" y1="200.98" x2="134.25" y2="200.98" stroke="#333" stroke-width="0.8"/>
<line x1="130.65" y1="213.26" x2="134.25" y2="213.26" stroke="#333" stroke-width="0.8"/>
<line x1="144.35" y1="198.35" x2="144.35" y2="216.76" stroke="#333" stroke-width="0.8"/>
<line x1="142.55" y1="198.35" x2="146.15" y2="198.35" stroke="#333" stroke-width="0.8"/>
<line x1="142.55" y1="216.76" x2="146.15" y2="216.76" stroke="#333" stroke-width="0.8"/>
<line x1="162.45" y1="170.95" x2="162.45" y2="188.70" stroke="#333" stroke-width="0.8"/>
<line x1="160.65" y1="170.95" x2="164.25" y2="170.95" stroke="#333" stroke-width="0.8"/>
<line x1="160.65" y1="188.70" x2="164.25" y2="188.70" stroke="#333" stroke-width="0.8"/>
<line x1="174.35" y1="187.21" x2="174.35" y2="204.49" stroke="#333" stroke-width="0.8"/>
<line x1="172.55" y1="187.21" x2="176.15" y2="187.21" stroke="#333" stroke-width="0.8"/>
<line x1="172.55" y1="204.49" x2="176.15" y2="204.49" stroke="#333" stroke-width="0.8"/>
<rect x="33.90" y="157.40" width="149.60" height="120.30" fill="none" stroke="#1a1a1a" stroke-width="1.25"/>
<line x1="31.40" y1="277.70" x2="33.90" y2="277.70" stroke="#1a1a1a" stroke-width="0.9"/>
<text x="29.20" y="279.30" font-size="6.9" text-anchor="end" textLength="8.90" lengthAdjust="spacingAndGlyphs" fill="#2a2a2a" stroke="#2a2a2a" stroke-width="0.28">0.0</text>
<line x1="31.40" y1="255.78" x2="33.90" y2="255.78" stroke="#1a1a1a" stroke-width="0.9"/>
<text x="29.20" y="257.38" font-size="6.9" text-anchor="end" textLength="8.90" lengthAdjust="spacingAndGlyphs" fill="#2a2a2a" stroke="#2a2a2a" stroke-width="0.28">0.5</text>
<line x1="31.40" y1="233.86" x2="33.90" y2="233.86" stroke="#1a1a1a" stroke-width="0.9"/>
<text x="29.20" y="235.46" font-size="6.9" text-anchor="end" textLength="8.90" lengthAdjust="spacingAndGlyphs" fill="#2a2a2a" stroke="#2a2a2a" stroke-width="0.28">1.0</text>
<line x1="31.40" y1="211.94" x2="33.90" y2="211.94" stroke="#1a1a1a" stroke-width="0.9"/>
<text x="29.20" y="213.54" font-size="6.9" text-anchor="end" textLength="8.90" lengthAdjust="spacingAndGlyphs" fill="#2a2a2a" stroke="#2a2a2a" stroke-width="0.28">1.5</text>
<line x1="31.40" y1="190.02" x2="33.90" y2="190.02" stroke="#1a1a1a" stroke-width="0.9"/>
<text x="29.20" y="191.62" font-size="6.9" text-anchor="end" textLength="8.90" lengthAdjust="spacingAndGlyphs" fill="#2a2a2a" stroke="#2a2a2a" stroke-width="0.28">2.0</text>
<line x1="31.40" y1="168.10" x2="33.90" y2="168.10" stroke="#1a1a1a" stroke-width="0.9"/>
<text x="29.20" y="169.70" font-size="6.9" text-anchor="end" textLength="8.90" lengthAdjust="spacingAndGlyphs" fill="#2a2a2a" stroke="#2a2a2a" stroke-width="0.28">2.5</text>
<line x1="32.10" y1="273.32" x2="33.90" y2="273.32" stroke="#1a1a1a" stroke-width="1.0"/>
<line x1="32.10" y1="268.93" x2="33.90" y2="268.93" stroke="#1a1a1a" stroke-width="1.0"/>
<line x1="32.10" y1="264.55" x2="33.90" y2="264.55" stroke="#1a1a1a" stroke-width="1.0"/>
<line x1="32.10" y1="260.16" x2="33.90" y2="260.16" stroke="#1a1a1a" stroke-width="1.0"/>
<line x1="32.10" y1="251.40" x2="33.90" y2="251.40" stroke="#1a1a1a" stroke-width="1.0"/>
<line x1="32.10" y1="247.01" x2="33.90" y2="247.01" stroke="#1a1a1a" stroke-width="1.0"/>
<line x1="32.10" y1="242.63" x2="33.90" y2="242.63" stroke="#1a1a1a" stroke-width="1.0"/>
<line x1="32.10" y1="238.24" x2="33.90" y2="238.24" stroke="#1a1a1a" stroke-width="1.0"/>
<line x1="32.10" y1="229.48" x2="33.90" y2="229.48" stroke="#1a1a1a" stroke-width="1.0"/>
<line x1="32.10" y1="225.09" x2="33.90" y2="225.09" stroke="#1a1a1a" stroke-width="1.0"/>
<line x1="32.10" y1="220.71" x2="33.90" y2="220.71" stroke="#1a1a1a" stroke-width="1.0"/>
<line x1="32.10" y1="216.32" x2="33.90" y2="216.32" stroke="#1a1a1a" stroke-width="1.0"/>
<line x1="32.10" y1="207.56" x2="33.90" y2="207.56" stroke="#1a1a1a" stroke-width="1.0"/>
<line x1="32.10" y1="203.17" x2="33.90" y2="203.17" stroke="#1a1a1a" stroke-width="1.0"/>
<line x1="32.10" y1="198.79" x2="33.90" y2="198.79" stroke="#1a1a1a" stroke-width="1.0"/>
<line x1="32.10" y1="194.40" x2="33.90" y2="194.40" stroke="#1a1a1a" stroke-width="1.0"/>
<line x1="32.10" y1="185.64" x2="33.90" y2="185.64" stroke="#1a1a1a" stroke-width="1.0"/>
<line x1="32.10" y1="181.25" x2="33.90" y2="181.25" stroke="#1a1a1a" stroke-width="1.0"/>
<line x1="32.10" y1="176.87" x2="33.90" y2="176.87" stroke="#1a1a1a" stroke-width="1.0"/>
<line x1="32.10" y1="172.48" x2="33.90" y2="172.48" stroke="#1a1a1a" stroke-width="1.0"/>
<line x1="32.10" y1="163.72" x2="33.90" y2="163.72" stroke="#1a1a1a" stroke-width="1.0"/>
<line x1="32.10" y1="159.33" x2="33.90" y2="159.33" stroke="#1a1a1a" stroke-width="1.0"/>
<line x1="48.40" y1="277.70" x2="48.40" y2="280.20" stroke="#1a1a1a" stroke-width="0.9"/>
<text x="48.40" y="287.60" font-size="7.4" text-anchor="middle" textLength="7.00" lengthAdjust="spacingAndGlyphs" fill="#2a2a2a" stroke="#2a2a2a" stroke-width="0.28">10</text>
<line x1="78.40" y1="277.70" x2="78.40" y2="280.20" stroke="#1a1a1a" stroke-width="0.9"/>
<text x="78.40" y="287.60" font-size="7.4" text-anchor="middle" textLength="7.00" lengthAdjust="spacingAndGlyphs" fill="#2a2a2a" stroke="#2a2a2a" stroke-width="0.28">20</text>
<line x1="108.40" y1="277.70" x2="108.40" y2="280.20" stroke="#1a1a1a" stroke-width="0.9"/>
<text x="108.40" y="287.60" font-size="7.4" text-anchor="middle" textLength="7.00" lengthAdjust="spacingAndGlyphs" fill="#2a2a2a" stroke="#2a2a2a" stroke-width="0.28">35</text>
<line x1="138.40" y1="277.70" x2="138.40" y2="280.20" stroke="#1a1a1a" stroke-width="0.9"/>
<text x="138.40" y="287.60" font-size="7.4" text-anchor="middle" textLength="7.00" lengthAdjust="spacingAndGlyphs" fill="#2a2a2a" stroke="#2a2a2a" stroke-width="0.28">45</text>
<line x1="168.40" y1="277.70" x2="168.40" y2="280.20" stroke="#1a1a1a" stroke-width="0.9"/>
<text x="168.40" y="287.60" font-size="7.4" text-anchor="middle" textLength="7.00" lengthAdjust="spacingAndGlyphs" fill="#2a2a2a" stroke="#2a2a2a" stroke-width="0.28">60</text>
<line x1="36.40" y1="277.70" x2="36.40" y2="279.50" stroke="#1a1a1a" stroke-width="1.0"/>
<line x1="42.40" y1="277.70" x2="42.40" y2="279.50" stroke="#1a1a1a" stroke-width="1.0"/>
<line x1="54.40" y1="277.70" x2="54.40" y2="279.50" stroke="#1a1a1a" stroke-width="1.0"/>
<line x1="60.40" y1="277.70" x2="60.40" y2="279.50" stroke="#1a1a1a" stroke-width="1.0"/>
<line x1="66.40" y1="277.70" x2="66.40" y2="279.50" stroke="#1a1a1a" stroke-width="1.0"/>
<line x1="72.40" y1="277.70" x2="72.40" y2="279.50" stroke="#1a1a1a" stroke-width="1.0"/>
<line x1="84.40" y1="277.70" x2="84.40" y2="279.50" stroke="#1a1a1a" stroke-width="1.0"/>
<line x1="90.40" y1="277.70" x2="90.40" y2="279.50" stroke="#1a1a1a" stroke-width="1.0"/>
<line x1="96.40" y1="277.70" x2="96.40" y2="279.50" stroke="#1a1a1a" stroke-width="1.0"/>
<line x1="102.40" y1="277.70" x2="102.40" y2="279.50" stroke="#1a1a1a" stroke-width="1.0"/>
<line x1="114.40" y1="277.70" x2="114.40" y2="279.50" stroke="#1a1a1a" stroke-width="1.0"/>
<line x1="120.40" y1="277.70" x2="120.40" y2="279.50" stroke="#1a1a1a" stroke-width="1.0"/>
<line x1="126.40" y1="277.70" x2="126.40" y2="279.50" stroke="#1a1a1a" stroke-width="1.0"/>
<line x1="132.40" y1="277.70" x2="132.40" y2="279.50" stroke="#1a1a1a" stroke-width="1.0"/>
<line x1="144.40" y1="277.70" x2="144.40" y2="279.50" stroke="#1a1a1a" stroke-width="1.0"/>
<line x1="150.40" y1="277.70" x2="150.40" y2="279.50" stroke="#1a1a1a" stroke-width="1.0"/>
<line x1="156.40" y1="277.70" x2="156.40" y2="279.50" stroke="#1a1a1a" stroke-width="1.0"/>
<line x1="162.40" y1="277.70" x2="162.40" y2="279.50" stroke="#1a1a1a" stroke-width="1.0"/>
<line x1="174.40" y1="277.70" x2="174.40" y2="279.50" stroke="#1a1a1a" stroke-width="1.0"/>
<line x1="180.40" y1="277.70" x2="180.40" y2="279.50" stroke="#1a1a1a" stroke-width="1.0"/>
<text x="108.30" y="297.20" font-size="7.3" text-anchor="middle" textLength="64.20" lengthAdjust="spacing" fill="#2a2a2a" stroke="#2a2a2a" stroke-width="0.18">Concentration (nM)</text>
<text x="16.40" y="217.60" font-size="7.2" text-anchor="middle" textLength="72.40" lengthAdjust="spacing" transform="rotate(-90 16.40 217.60)" fill="#2a2a2a" stroke="#2a2a2a" stroke-width="0.18">Wavelength shift (nm)</text>
<text x="6.00" y="162.40" font-size="12.5" text-anchor="start" textLength="7.80" lengthAdjust="spacingAndGlyphs" font-weight="bold" fill="#000">D</text>
<text x="39.00" y="168.50" font-size="6.5" text-anchor="start" textLength="80.50" lengthAdjust="spacing" fill="#2a2a2a" stroke="#2a2a2a" stroke-width="0.18">SARS-CoV spike S1 protein</text>
<rect x="39.3" y="174.0" width="12.4" height="5.9" fill="url(#gR)" stroke="#888" stroke-width="0.6"/>
<rect x="39.3" y="183.0" width="12.4" height="5.9" fill="url(#gB)" stroke="#888" stroke-width="0.6"/>
<text x="55.00" y="179.20" font-size="6.5" text-anchor="start" textLength="9.30" lengthAdjust="spacing" fill="#2a2a2a" stroke="#2a2a2a" stroke-width="0.18">0 h</text>
<text x="55.40" y="188.60" font-size="6.5" text-anchor="start" textLength="20.30" lengthAdjust="spacing" fill="#2a2a2a" stroke="#2a2a2a" stroke-width="0.18">8 Days</text>
<polyline points="212.30,270.50 215.00,269.60 218.00,270.10 221.00,269.80 224.00,270.20 227.30,269.80 229.00,267.50 232.30,263.40 235.00,261.00 238.20,259.00 241.00,257.00 244.20,255.30 247.90,253.00 249.40,253.50 250.90,256.70 253.10,258.20 254.50,258.00 256.00,256.00 258.50,252.50 262.00,246.30 265.00,241.50 267.00,238.00 270.00,235.40 272.30,236.00 273.50,241.20 276.40,241.80 279.30,242.40 281.00,238.50 282.20,233.10 285.00,225.00 288.50,216.90 292.00,213.50 296.00,208.50 300.20,203.70 301.20,208.00 302.00,213.20 303.50,214.20 306.00,214.20 307.30,212.50 308.50,207.00 309.50,203.10 312.40,195.00 315.80,192.10 320.00,190.40 323.00,189.00 326.20,187.70 327.50,188.20 328.90,190.50 329.50,195.00 330.20,200.00 331.20,202.30 332.50,202.50 333.80,200.50 334.60,194.00 335.60,186.00 337.40,179.00 339.50,175.50 341.40,173.90 344.70,172.90 347.00,173.30 349.00,172.60 352.00,173.20 354.60,172.90" fill="none" stroke="#111" stroke-width="1.25" stroke-linejoin="round" stroke-linecap="round"/>
<line x1="227.50" y1="258.20" x2="227.50" y2="267.40" stroke="#111" stroke-width="0.9"/>
<path d="M225.90,266.20 L229.10,266.20 L227.50,269.40 Z" fill="#111"/>
<line x1="253.50" y1="241.10" x2="253.50" y2="254.70" stroke="#111" stroke-width="0.9"/>
<path d="M251.90,253.50 L255.10,253.50 L253.50,256.70 Z" fill="#111"/>
<line x1="279.30" y1="216.90" x2="279.30" y2="237.50" stroke="#111" stroke-width="0.9"/>
<path d="M277.70,236.30 L280.90,236.30 L279.30,239.50 Z" fill="#111"/>
<line x1="304.90" y1="192.10" x2="304.90" y2="209.80" stroke="#111" stroke-width="0.9"/>
<path d="M303.30,208.60 L306.50,208.60 L304.90,211.80 Z" fill="#111"/>
<line x1="331.50" y1="179.10" x2="331.50" y2="199.50" stroke="#111" stroke-width="0.9"/>
<path d="M329.90,198.30 L333.10,198.30 L331.50,201.50 Z" fill="#111"/>
<rect x="211.80" y="157.40" width="151.10" height="120.70" fill="none" stroke="#1a1a1a" stroke-width="1.25"/>
<line x1="209.30" y1="271.90" x2="211.80" y2="271.90" stroke="#1a1a1a" stroke-width="0.9"/>
<text x="207.10" y="273.50" font-size="6.9" text-anchor="end" textLength="8.90" lengthAdjust="spacingAndGlyphs" fill="#2a2a2a" stroke="#2a2a2a" stroke-width="0.28">0.0</text>
<line x1="209.30" y1="243.27" x2="211.80" y2="243.27" stroke="#1a1a1a" stroke-width="0.9"/>
<text x="207.10" y="244.87" font-size="6.9" text-anchor="end" textLength="8.90" lengthAdjust="spacingAndGlyphs" fill="#2a2a2a" stroke="#2a2a2a" stroke-width="0.28">0.5</text>
<line x1="209.30" y1="214.65" x2="211.80" y2="214.65" stroke="#1a1a1a" stroke-width="0.9"/>
<text x="207.10" y="216.25" font-size="6.9" text-anchor="end" textLength="8.90" lengthAdjust="spacingAndGlyphs" fill="#2a2a2a" stroke="#2a2a2a" stroke-width="0.28">1.0</text>
<line x1="209.30" y1="186.02" x2="211.80" y2="186.02" stroke="#1a1a1a" stroke-width="0.9"/>
<text x="207.10" y="187.62" font-size="6.9" text-anchor="end" textLength="8.90" lengthAdjust="spacingAndGlyphs" fill="#2a2a2a" stroke="#2a2a2a" stroke-width="0.28">1.5</text>
<line x1="209.30" y1="157.40" x2="211.80" y2="157.40" stroke="#1a1a1a" stroke-width="0.9"/>
<text x="207.10" y="159.00" font-size="6.9" text-anchor="end" textLength="8.90" lengthAdjust="spacingAndGlyphs" fill="#2a2a2a" stroke="#2a2a2a" stroke-width="0.28">2.0</text>
<line x1="210.00" y1="277.62" x2="211.80" y2="277.62" stroke="#1a1a1a" stroke-width="1.0"/>
<line x1="210.00" y1="266.17" x2="211.80" y2="266.17" stroke="#1a1a1a" stroke-width="1.0"/>
<line x1="210.00" y1="260.45" x2="211.80" y2="260.45" stroke="#1a1a1a" stroke-width="1.0"/>
<line x1="210.00" y1="254.72" x2="211.80" y2="254.72" stroke="#1a1a1a" stroke-width="1.0"/>
<line x1="210.00" y1="249.00" x2="211.80" y2="249.00" stroke="#1a1a1a" stroke-width="1.0"/>
<line x1="210.00" y1="237.55" x2="211.80" y2="237.55" stroke="#1a1a1a" stroke-width="1.0"/>
<line x1="210.00" y1="231.82" x2="211.80" y2="231.82" stroke="#1a1a1a" stroke-width="1.0"/>
<line x1="210.00" y1="226.10" x2="211.80" y2="226.10" stroke="#1a1a1a" stroke-width="1.0"/>
<line x1="210.00" y1="220.37" x2="211.80" y2="220.37" stroke="#1a1a1a" stroke-width="1.0"/>
<line x1="210.00" y1="208.92" x2="211.80" y2="208.92" stroke="#1a1a1a" stroke-width="1.0"/>
<line x1="210.00" y1="203.20" x2="211.80" y2="203.20" stroke="#1a1a1a" stroke-width="1.0"/>
<line x1="210.00" y1="197.47" x2="211.80" y2="197.47" stroke="#1a1a1a" stroke-width="1.0"/>
<line x1="210.00" y1="191.75" x2="211.80" y2="191.75" stroke="#1a1a1a" stroke-width="1.0"/>
<line x1="210.00" y1="180.30" x2="211.80" y2="180.30" stroke="#1a1a1a" stroke-width="1.0"/>
<line x1="210.00" y1="174.57" x2="211.80" y2="174.57" stroke="#1a1a1a" stroke-width="1.0"/>
<line x1="210.00" y1="168.85" x2="211.80" y2="168.85" stroke="#1a1a1a" stroke-width="1.0"/>
<line x1="210.00" y1="163.12" x2="211.80" y2="163.12" stroke="#1a1a1a" stroke-width="1.0"/>
<line x1="211.80" y1="278.10" x2="211.80" y2="280.60" stroke="#1a1a1a" stroke-width="0.9"/>
<text x="211.80" y="287.80" font-size="7.4" text-anchor="middle" textLength="3.50" lengthAdjust="spacingAndGlyphs" fill="#2a2a2a" stroke="#2a2a2a" stroke-width="0.28">0</text>
<line x1="249.58" y1="278.10" x2="249.58" y2="280.60" stroke="#1a1a1a" stroke-width="0.9"/>
<text x="249.58" y="287.80" font-size="7.4" text-anchor="middle" textLength="14.00" lengthAdjust="spacingAndGlyphs" fill="#2a2a2a" stroke="#2a2a2a" stroke-width="0.28">2000</text>
<line x1="287.35" y1="278.10" x2="287.35" y2="280.60" stroke="#1a1a1a" stroke-width="0.9"/>
<text x="287.35" y="287.80" font-size="7.4" text-anchor="middle" textLength="14.00" lengthAdjust="spacingAndGlyphs" fill="#2a2a2a" stroke="#2a2a2a" stroke-width="0.28">4000</text>
<line x1="325.12" y1="278.10" x2="325.12" y2="280.60" stroke="#1a1a1a" stroke-width="0.9"/>
<text x="325.12" y="287.80" font-size="7.4" text-anchor="middle" textLength="14.00" lengthAdjust="spacingAndGlyphs" fill="#2a2a2a" stroke="#2a2a2a" stroke-width="0.28">6000</text>
<line x1="362.90" y1="278.10" x2="362.90" y2="280.60" stroke="#1a1a1a" stroke-width="0.9"/>
<text x="362.90" y="287.80" font-size="7.4" text-anchor="middle" textLength="14.00" lengthAdjust="spacingAndGlyphs" fill="#2a2a2a" stroke="#2a2a2a" stroke-width="0.28">8000</text>
<line x1="219.36" y1="278.10" x2="219.36" y2="279.90" stroke="#1a1a1a" stroke-width="1.0"/>
<line x1="226.91" y1="278.10" x2="226.91" y2="279.90" stroke="#1a1a1a" stroke-width="1.0"/>
<line x1="234.47" y1="278.10" x2="234.47" y2="279.90" stroke="#1a1a1a" stroke-width="1.0"/>
<line x1="242.02" y1="278.10" x2="242.02" y2="279.90" stroke="#1a1a1a" stroke-width="1.0"/>
<line x1="257.13" y1="278.10" x2="257.13" y2="279.90" stroke="#1a1a1a" stroke-width="1.0"/>
<line x1="264.69" y1="278.10" x2="264.69" y2="279.90" stroke="#1a1a1a" stroke-width="1.0"/>
<line x1="272.24" y1="278.10" x2="272.24" y2="279.90" stroke="#1a1a1a" stroke-width="1.0"/>
<line x1="279.80" y1="278.10" x2="279.80" y2="279.90" stroke="#1a1a1a" stroke-width="1.0"/>
<line x1="294.90" y1="278.10" x2="294.90" y2="279.90" stroke="#1a1a1a" stroke-width="1.0"/>
<line x1="302.46" y1="278.10" x2="302.46" y2="279.90" stroke="#1a1a1a" stroke-width="1.0"/>
<line x1="310.01" y1="278.10" x2="310.01" y2="279.90" stroke="#1a1a1a" stroke-width="1.0"/>
<line x1="317.57" y1="278.10" x2="317.57" y2="279.90" stroke="#1a1a1a" stroke-width="1.0"/>
<line x1="332.68" y1="278.10" x2="332.68" y2="279.90" stroke="#1a1a1a" stroke-width="1.0"/>
<line x1="340.24" y1="278.10" x2="340.24" y2="279.90" stroke="#1a1a1a" stroke-width="1.0"/>
<line x1="347.79" y1="278.10" x2="347.79" y2="279.90" stroke="#1a1a1a" stroke-width="1.0"/>
<line x1="355.35" y1="278.10" x2="355.35" y2="279.90" stroke="#1a1a1a" stroke-width="1.0"/>
<text x="287.30" y="295.90" font-size="7.5" text-anchor="middle" textLength="26.00" lengthAdjust="spacing" fill="#2a2a2a" stroke="#2a2a2a" stroke-width="0.18">Time (s)</text>
<text x="194.40" y="216.40" font-size="7.3" text-anchor="middle" textLength="71.00" lengthAdjust="spacing" transform="rotate(-90 194.40 216.40)" fill="#2a2a2a" stroke="#2a2a2a" stroke-width="0.18">Wavelength shift (nm)</text>
<text x="188.70" y="162.50" font-size="12.5" text-anchor="start" textLength="6.20" lengthAdjust="spacingAndGlyphs" font-weight="bold" fill="#000">E</text>
<text x="215.50" y="168.20" font-size="6.5" text-anchor="start" textLength="113.00" lengthAdjust="spacing" fill="#2a2a2a" stroke="#2a2a2a" stroke-width="0.18">SARS-CoV-2 spike S1 protein in saliva</text>
<text x="227.80" y="256.80" font-size="6.5" text-anchor="middle" textLength="18.90" lengthAdjust="spacing" fill="#2a2a2a" stroke="#2a2a2a" stroke-width="0.18">20 nM</text>
<text x="255.00" y="239.70" font-size="6.5" text-anchor="middle" textLength="18.50" lengthAdjust="spacing" fill="#2a2a2a" stroke="#2a2a2a" stroke-width="0.18">35 nM</text>
<text x="280.10" y="214.00" font-size="6.5" text-anchor="middle" textLength="18.90" lengthAdjust="spacing" fill="#2a2a2a" stroke="#2a2a2a" stroke-width="0.18">45 nM</text>
<text x="306.30" y="191.00" font-size="6.5" text-anchor="middle" textLength="18.90" lengthAdjust="spacing" fill="#2a2a2a" stroke="#2a2a2a" stroke-width="0.18">60 nM</text>
<text x="329.20" y="177.60" font-size="6.5" text-anchor="middle" textLength="18.50" lengthAdjust="spacing" fill="#2a2a2a" stroke="#2a2a2a" stroke-width="0.18">70 nM</text>
<line x1="407.00" y1="260.00" x2="529.70" y2="181.50" stroke="#e8262a" stroke-width="1.2"/>
<line x1="407.00" y1="252.05" x2="407.00" y2="265.83" stroke="#666" stroke-width="0.8"/>
<line x1="405.20" y1="252.05" x2="408.80" y2="252.05" stroke="#666" stroke-width="0.8"/>
<line x1="405.20" y1="265.83" x2="408.80" y2="265.83" stroke="#666" stroke-width="0.8"/>
<circle cx="407.00" cy="258.88" r="1.8" fill="#111"/>
<line x1="443.81" y1="236.29" x2="443.81" y2="247.81" stroke="#666" stroke-width="0.8"/>
<line x1="442.01" y1="236.29" x2="445.61" y2="236.29" stroke="#666" stroke-width="0.8"/>
<line x1="442.01" y1="247.81" x2="445.61" y2="247.81" stroke="#666" stroke-width="0.8"/>
<circle cx="443.81" cy="242.13" r="1.8" fill="#111"/>
<line x1="468.35" y1="199.71" x2="468.35" y2="222.30" stroke="#666" stroke-width="0.8"/>
<line x1="466.55" y1="199.71" x2="470.15" y2="199.71" stroke="#666" stroke-width="0.8"/>
<line x1="466.55" y1="222.30" x2="470.15" y2="222.30" stroke="#666" stroke-width="0.8"/>
<circle cx="468.35" cy="211.83" r="1.8" fill="#111"/>
<line x1="505.16" y1="194.75" x2="505.16" y2="199.71" stroke="#666" stroke-width="0.8"/>
<line x1="503.36" y1="194.75" x2="506.96" y2="194.75" stroke="#666" stroke-width="0.8"/>
<line x1="503.36" y1="199.71" x2="506.96" y2="199.71" stroke="#666" stroke-width="0.8"/>
<circle cx="505.16" cy="197.23" r="1.8" fill="#111"/>
<line x1="529.70" y1="176.29" x2="529.70" y2="189.40" stroke="#666" stroke-width="0.8"/>
<line x1="527.90" y1="176.29" x2="531.50" y2="176.29" stroke="#666" stroke-width="0.8"/>
<line x1="527.90" y1="189.40" x2="531.50" y2="189.40" stroke="#666" stroke-width="0.8"/>
<circle cx="529.70" cy="183.18" r="1.8" fill="#111"/>
<rect x="394.20" y="157.40" width="150.40" height="121.10" fill="none" stroke="#1a1a1a" stroke-width="1.25"/>
<line x1="391.70" y1="278.50" x2="394.20" y2="278.50" stroke="#1a1a1a" stroke-width="0.9"/>
<text x="389.50" y="280.10" font-size="6.9" text-anchor="end" textLength="8.90" lengthAdjust="spacingAndGlyphs" fill="#2a2a2a" stroke="#2a2a2a" stroke-width="0.28">0.0</text>
<line x1="391.70" y1="250.95" x2="394.20" y2="250.95" stroke="#1a1a1a" stroke-width="0.9"/>
<text x="389.50" y="252.55" font-size="6.9" text-anchor="end" textLength="8.90" lengthAdjust="spacingAndGlyphs" fill="#2a2a2a" stroke="#2a2a2a" stroke-width="0.28">0.5</text>
<line x1="391.70" y1="223.40" x2="394.20" y2="223.40" stroke="#1a1a1a" stroke-width="0.9"/>
<text x="389.50" y="225.00" font-size="6.9" text-anchor="end" textLength="8.90" lengthAdjust="spacingAndGlyphs" fill="#2a2a2a" stroke="#2a2a2a" stroke-width="0.28">1.0</text>
<line x1="391.70" y1="195.85" x2="394.20" y2="195.85" stroke="#1a1a1a" stroke-width="0.9"/>
<text x="389.50" y="197.45" font-size="6.9" text-anchor="end" textLength="8.90" lengthAdjust="spacingAndGlyphs" fill="#2a2a2a" stroke="#2a2a2a" stroke-width="0.28">1.5</text>
<line x1="391.70" y1="168.30" x2="394.20" y2="168.30" stroke="#1a1a1a" stroke-width="0.9"/>
<text x="389.50" y="169.90" font-size="6.9" text-anchor="end" textLength="8.90" lengthAdjust="spacingAndGlyphs" fill="#2a2a2a" stroke="#2a2a2a" stroke-width="0.28">2.0</text>
<line x1="392.40" y1="272.99" x2="394.20" y2="272.99" stroke="#1a1a1a" stroke-width="1.0"/>
<line x1="392.40" y1="267.48" x2="394.20" y2="267.48" stroke="#1a1a1a" stroke-width="1.0"/>
<line x1="392.40" y1="261.97" x2="394.20" y2="261.97" stroke="#1a1a1a" stroke-width="1.0"/>
<line x1="392.40" y1="256.46" x2="394.20" y2="256.46" stroke="#1a1a1a" stroke-width="1.0"/>
<line x1="392.40" y1="245.44" x2="394.20" y2="245.44" stroke="#1a1a1a" stroke-width="1.0"/>
<line x1="392.40" y1="239.93" x2="394.20" y2="239.93" stroke="#1a1a1a" stroke-width="1.0"/>
<line x1="392.40" y1="234.42" x2="394.20" y2="234.42" stroke="#1a1a1a" stroke-width="1.0"/>
<line x1="392.40" y1="228.91" x2="394.20" y2="228.91" stroke="#1a1a1a" stroke-width="1.0"/>
<line x1="392.40" y1="217.89" x2="394.20" y2="217.89" stroke="#1a1a1a" stroke-width="1.0"/>
<line x1="392.40" y1="212.38" x2="394.20" y2="212.38" stroke="#1a1a1a" stroke-width="1.0"/>
<line x1="392.40" y1="206.87" x2="394.20" y2="206.87" stroke="#1a1a1a" stroke-width="1.0"/>
<line x1="392.40" y1="201.36" x2="394.20" y2="201.36" stroke="#1a1a1a" stroke-width="1.0"/>
<line x1="392.40" y1="190.34" x2="394.20" y2="190.34" stroke="#1a1a1a" stroke-width="1.0"/>
<line x1="392.40" y1="184.83" x2="394.20" y2="184.83" stroke="#1a1a1a" stroke-width="1.0"/>
<line x1="392.40" y1="179.32" x2="394.20" y2="179.32" stroke="#1a1a1a" stroke-width="1.0"/>
<line x1="392.40" y1="173.81" x2="394.20" y2="173.81" stroke="#1a1a1a" stroke-width="1.0"/>
<line x1="392.40" y1="162.79" x2="394.20" y2="162.79" stroke="#1a1a1a" stroke-width="1.0"/>
<line x1="407.00" y1="278.50" x2="407.00" y2="281.00" stroke="#1a1a1a" stroke-width="0.9"/>
<text x="407.00" y="288.00" font-size="7.4" text-anchor="middle" textLength="7.00" lengthAdjust="spacingAndGlyphs" fill="#2a2a2a" stroke="#2a2a2a" stroke-width="0.28">20</text>
<line x1="431.54" y1="278.50" x2="431.54" y2="281.00" stroke="#1a1a1a" stroke-width="0.9"/>
<text x="431.54" y="288.00" font-size="7.4" text-anchor="middle" textLength="7.00" lengthAdjust="spacingAndGlyphs" fill="#2a2a2a" stroke="#2a2a2a" stroke-width="0.28">30</text>
<line x1="456.08" y1="278.50" x2="456.08" y2="281.00" stroke="#1a1a1a" stroke-width="0.9"/>
<text x="456.08" y="288.00" font-size="7.4" text-anchor="middle" textLength="7.00" lengthAdjust="spacingAndGlyphs" fill="#2a2a2a" stroke="#2a2a2a" stroke-width="0.28">40</text>
<line x1="480.62" y1="278.50" x2="480.62" y2="281.00" stroke="#1a1a1a" stroke-width="0.9"/>
<text x="480.62" y="288.00" font-size="7.4" text-anchor="middle" textLength="7.00" lengthAdjust="spacingAndGlyphs" fill="#2a2a2a" stroke="#2a2a2a" stroke-width="0.28">50</text>
<line x1="505.16" y1="278.50" x2="505.16" y2="281.00" stroke="#1a1a1a" stroke-width="0.9"/>
<text x="505.16" y="288.00" font-size="7.4" text-anchor="middle" textLength="7.00" lengthAdjust="spacingAndGlyphs" fill="#2a2a2a" stroke="#2a2a2a" stroke-width="0.28">60</text>
<line x1="529.70" y1="278.50" x2="529.70" y2="281.00" stroke="#1a1a1a" stroke-width="0.9"/>
<text x="529.70" y="288.00" font-size="7.4" text-anchor="middle" textLength="7.00" lengthAdjust="spacingAndGlyphs" fill="#2a2a2a" stroke="#2a2a2a" stroke-width="0.28">70</text>
<line x1="397.18" y1="278.50" x2="397.18" y2="280.30" stroke="#1a1a1a" stroke-width="1.0"/>
<line x1="402.09" y1="278.50" x2="402.09" y2="280.30" stroke="#1a1a1a" stroke-width="1.0"/>
<line x1="411.91" y1="278.50" x2="411.91" y2="280.30" stroke="#1a1a1a" stroke-width="1.0"/>
<line x1="416.82" y1="278.50" x2="416.82" y2="280.30" stroke="#1a1a1a" stroke-width="1.0"/>
<line x1="421.72" y1="278.50" x2="421.72" y2="280.30" stroke="#1a1a1a" stroke-width="1.0"/>
<line x1="426.63" y1="278.50" x2="426.63" y2="280.30" stroke="#1a1a1a" stroke-width="1.0"/>
<line x1="436.45" y1="278.50" x2="436.45" y2="280.30" stroke="#1a1a1a" stroke-width="1.0"/>
<line x1="441.36" y1="278.50" x2="441.36" y2="280.30" stroke="#1a1a1a" stroke-width="1.0"/>
<line x1="446.26" y1="278.50" x2="446.26" y2="280.30" stroke="#1a1a1a" stroke-width="1.0"/>
<line x1="451.17" y1="278.50" x2="451.17" y2="280.30" stroke="#1a1a1a" stroke-width="1.0"/>
<line x1="460.99" y1="278.50" x2="460.99" y2="280.30" stroke="#1a1a1a" stroke-width="1.0"/>
<line x1="465.90" y1="278.50" x2="465.90" y2="280.30" stroke="#1a1a1a" stroke-width="1.0"/>
<line x1="470.80" y1="278.50" x2="470.80" y2="280.30" stroke="#1a1a1a" stroke-width="1.0"/>
<line x1="475.71" y1="278.50" x2="475.71" y2="280.30" stroke="#1a1a1a" stroke-width="1.0"/>
<line x1="485.53" y1="278.50" x2="485.53" y2="280.30" stroke="#1a1a1a" stroke-width="1.0"/>
<line x1="490.44" y1="278.50" x2="490.44" y2="280.30" stroke="#1a1a1a" stroke-width="1.0"/>
<line x1="495.34" y1="278.50" x2="495.34" y2="280.30" stroke="#1a1a1a" stroke-width="1.0"/>
<line x1="500.25" y1="278.50" x2="500.25" y2="280.30" stroke="#1a1a1a" stroke-width="1.0"/>
<line x1="510.07" y1="278.50" x2="510.07" y2="280.30" stroke="#1a1a1a" stroke-width="1.0"/>
<line x1="514.98" y1="278.50" x2="514.98" y2="280.30" stroke="#1a1a1a" stroke-width="1.0"/>
<line x1="519.88" y1="278.50" x2="519.88" y2="280.30" stroke="#1a1a1a" stroke-width="1.0"/>
<line x1="524.79" y1="278.50" x2="524.79" y2="280.30" stroke="#1a1a1a" stroke-width="1.0"/>
<line x1="534.61" y1="278.50" x2="534.61" y2="280.30" stroke="#1a1a1a" stroke-width="1.0"/>
<line x1="539.52" y1="278.50" x2="539.52" y2="280.30" stroke="#1a1a1a" stroke-width="1.0"/>
<text x="469.00" y="298.20" font-size="7.3" text-anchor="middle" textLength="63.70" lengthAdjust="spacing" fill="#2a2a2a" stroke="#2a2a2a" stroke-width="0.18">Concentration (nM)</text>
<text x="378.30" y="216.00" font-size="7.0" text-anchor="middle" textLength="70.50" lengthAdjust="spacing" transform="rotate(-90 378.30 216.00)" fill="#2a2a2a" stroke="#2a2a2a" stroke-width="0.18">Wavelength shift (nm)</text>
<text x="371.70" y="162.50" font-size="12.5" text-anchor="start" textLength="6.00" lengthAdjust="spacingAndGlyphs" font-weight="bold" fill="#000">F</text>
<text x="399.10" y="168.20" font-size="6.5" text-anchor="start" textLength="113.00" lengthAdjust="spacing" fill="#2a2a2a" stroke="#2a2a2a" stroke-width="0.18">SARS-CoV-2 spike S1 protein in saliva</text>
</svg></body></html>
